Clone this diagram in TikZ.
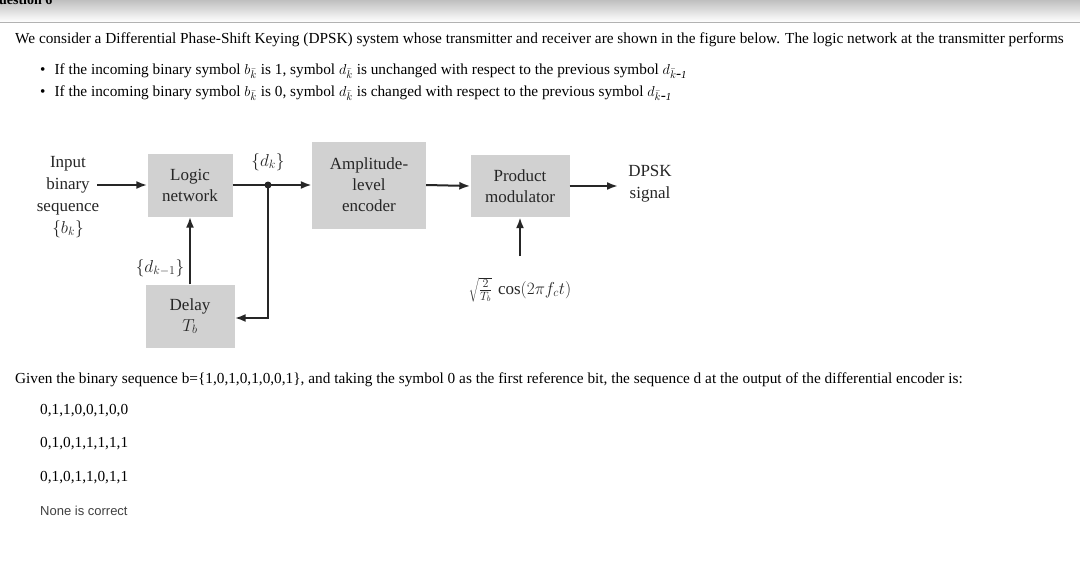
\documentclass[tikz,border=0pt]{standalone}
\usepackage{fontspec}
\setmainfont{Liberation Serif}
\newfontfamily\uisans{Liberation Sans}
\usetikzlibrary{arrows.meta,shadings}
\begin{document}
\begin{tikzpicture}[x=1pt,y=-1pt,
  blk/.style={fill=black!18,align=center,font=\fontsize{17}{21}\selectfont,text=black!85,inner sep=0pt},
  lbl/.style={align=center,font=\fontsize{17}{22}\selectfont,text=black!85},
  arr/.style={-{Latex[length=11pt,width=8pt]},line width=2pt,black!85},
  ln/.style={line width=2pt,black!85},
  txt/.style={anchor=west,font=\fontsize{15.3}{17}\selectfont,inner sep=0pt}]
\useasboundingbox (0,0) rectangle (1080,570);
\clip (0,0) rectangle (1080,570);
\fill[white] (0,0) rectangle (1080,570);
\shade[top color=black!25,bottom color=white] (0,0) rectangle (1080,22);
\draw[black!30] (0,22) -- (1080,22);
\node[anchor=west,font=\bfseries\fontsize{14}{14}\selectfont,inner sep=0pt] (hd) at (-12,1) {Question 6};
\node[txt] (intro) at (15,40) {We consider a Differential Phase-Shift Keying (DPSK) system whose transmitter and receiver are shown in the figure below. The logic network at the transmitter performs};
\node[txt] (b1) at (40,71) {\textbullet\hspace{9pt}If the incoming binary symbol $b_{\bar k}$ is 1, symbol $d_{\bar k}$ is unchanged with respect to the previous symbol $d_{\bar k\mbox{-}\mathit{1}}$};
\node[txt] (b2) at (40,93) {\textbullet\hspace{9pt}If the incoming binary symbol $b_{\bar k}$ is 0, symbol $d_{\bar k}$ is changed with respect to the previous symbol $d_{\bar k\mbox{-}\mathit{1}}$};

\node[blk,minimum width=85,minimum height=63] (logic) at (190,185) {Logic\\network};
\node[blk,minimum width=114,minimum height=87] (amp) at (369,185) {Amplitude-\\level\\encoder};
\node[blk,minimum width=99,minimum height=62] (prod) at (520,186) {Product\\modulator};
\node[blk,minimum width=89,minimum height=63] (delay) at (190,316) {Delay\\$T_b$};
\node[lbl] (in) at (68,197) {Input\\binary\\sequence\\$\{b_k\}$};
\node[lbl] (out) at (650,184) {DPSK\\signal};
\node[lbl] (car) at (520,290) {$\sqrt{\frac{2}{T_b}}\,\cos(2\pi f_c t)$};
\coordinate (j) at (268,185);
\coordinate (jd) at (268,318);
\coordinate (ins) at (97,185);
\coordinate (cs) at (520,256);
\draw[arr] (ins) -- (logic.west);
\draw[ln] (logic.east) -- (j);
\draw[arr] (j) -- (amp.west);
\fill[black!85] (j) circle (3.5);
\draw[arr] (j) -- (jd) -- (delay.east |- jd);
\draw[arr] (delay.north) -- (logic.south);
\draw[arr] (amp.east) -- (prod.west);
\draw[arr] (prod.east) -- (618,186);
\draw[arr] (cs) -- (prod.south);
\node[lbl] (dk) at (268,162) {$\{d_k\}$};
\node[lbl] (dk1) at (160,268) {$\{d_{k-1}\}$};

\node[txt] (q) at (15,380) {Given the binary sequence b=\{1,0,1,0,1,0,0,1\}, and taking the symbol 0 as the first reference bit, the sequence d at the output of the differential encoder is:};
\node[txt] (o1) at (40,411) {0,1,1,0,0,1,0,0};
\node[txt] (o2) at (40,444) {0,1,0,1,1,1,1,1};
\node[txt] (o3) at (40,478) {0,1,0,1,1,0,1,1};
\node[txt,font=\uisans\fontsize{13}{14}\selectfont,text=black!75] (o4) at (40,511) {None is correct};
\end{tikzpicture}
\end{document}
